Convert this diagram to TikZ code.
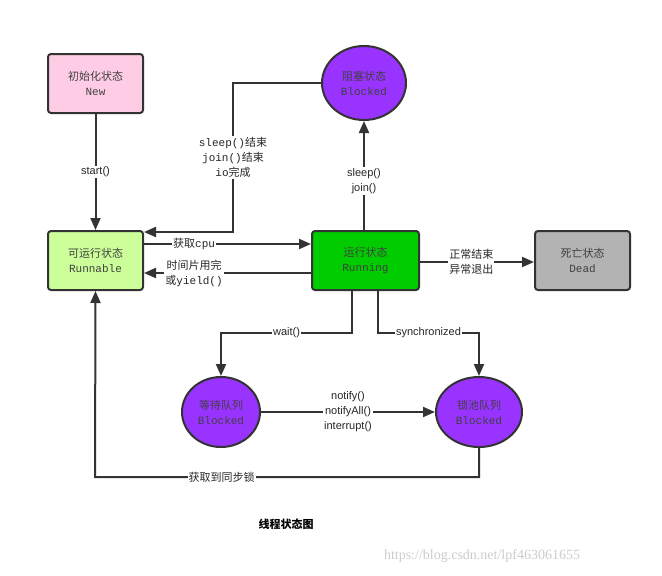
\documentclass[tikz,border=0pt]{standalone}
\usepackage{fontspec}
\setmainfont{Liberation Sans}
\newfontfamily\cjk{Noto Sans CJK SC}
\newfontfamily\mono{Liberation Mono}
\usetikzlibrary{arrows.meta,shapes.geometric}
\definecolor{edge}{HTML}{333333}
\definecolor{pinkf}{HTML}{FFCCE6}
\definecolor{greenl}{HTML}{CCFF99}
\definecolor{greend}{HTML}{00CC00}
\definecolor{grayf}{HTML}{B3B3B3}
\definecolor{purp}{HTML}{9933FF}
\begin{document}
\begin{tikzpicture}[x=1pt,y=-1pt,
  box/.style={draw=edge,line width=2pt,rounded corners=3pt,minimum width=95pt,minimum height=59pt,align=center,font=\fontsize{11}{15}\selectfont,text=black!75},
  ell/.style={draw=edge,line width=2pt,ellipse,fill=purp,align=center,font=\fontsize{11}{15}\selectfont,text=black!75},
  con/.style={draw=edge,line width=2pt,-{Triangle[length=12pt,width=10pt]}},
  lab/.style={fill=white,inner sep=1pt,align=center,font=\fontsize{11}{15}\selectfont,text=black!85}]
\useasboundingbox (0,0) rectangle (662,576);
\node[box,fill=pinkf] (new) at (95.5,83.5) {{\cjk 初始化状态}\\{\mono New}};
\node[box,fill=greenl] (run) at (95.5,260.5) {{\cjk 可运行状态}\\{\mono Runnable}};
\node[box,fill=greend,minimum width=107pt] (ring) at (365.5,260.5) {{\cjk 运行状态}\\{\mono Running}};
\node[box,fill=grayf] (dead) at (582.5,260.5) {{\cjk 死亡状态}\\{\mono Dead}};
\node[ell,minimum width=84pt,minimum height=74pt] (blk) at (364,83) {{\cjk 阻塞状态}\\{\mono Blocked}};
\node[ell,minimum width=78pt,minimum height=70pt] (wait) at (221,412) {{\cjk 等待队列}\\{\mono Blocked}};
\node[ell,minimum width=86pt,minimum height=70pt] (lock) at (479,412) {{\cjk 锁池队列}\\{\mono Blocked}};
\coordinate (c1) at (233,83);
\coordinate (c2) at (233,232);
\coordinate (c3) at (352,333);
\coordinate (c4) at (221,333);
\coordinate (c5) at (378,333);
\coordinate (c6) at (479,333);
\coordinate (c7) at (479,477);
\coordinate (c8) at (95,477);

\draw[con] (new) -- node[lab]{start()} (run);
\draw[con] (blk.west) -- (c1) -- node[lab,pos=0.5]{\mono sleep()\cjk 结束\\\mono join()\cjk 结束\\\mono io\cjk 完成} (c2) -- (run.east |- c2);
\draw[con] (ring.north -| blk) -- node[lab,pos=0.45]{sleep()\\join()} (blk.south);
\draw[con] (run.east |- 0,244) -- node[lab,pos=0.3]{{\cjk 获取}\mono cpu} (ring.west |- 0,244);
\draw[con] (ring.west |- 0,273) -- node[lab,pos=0.7]{{\cjk 时间片用完}\\{\cjk 或}\mono yield()} (run.east |- 0,273);
\draw[con] (ring.east |- 0,262) -- node[lab,pos=0.45]{\cjk 正常结束\\\cjk 异常退出} (dead.west |- 0,262);
\draw[con] (ring.south -| c3) -- (c3) -- node[lab,pos=0.5]{wait()} (c4) -- (wait.north);
\draw[con] (ring.south -| c5) -- (c5) -- node[lab,pos=0.5]{synchronized} (c6) -- (lock.north);
\draw[con] (wait.east) -- node[lab,pos=0.5]{notify()\\notifyAll()\\interrupt()} (lock.west);
\draw[con] (lock.south) -- (c7) -- node[lab,pos=0.67]{\cjk 获取到同步锁} (c8) -- (run.south);
\node[font=\cjk\bfseries\fontsize{11}{13}\selectfont] (title) at (286,524) {线程状态图};
\node[font=\fontsize{14}{16}\selectfont\setmainfont{Liberation Serif},text=black!20] (wm) at (482,556) {https://blog.csdn.net/lpf463061655};
\end{tikzpicture}
\end{document}
